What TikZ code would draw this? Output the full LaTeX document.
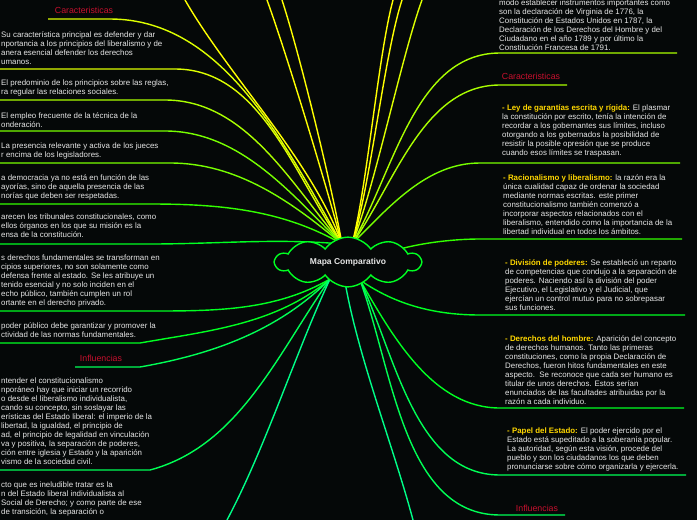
\documentclass[tikz,border=0pt]{standalone}
\usepackage{fontspec}
\setmainfont{Liberation Sans}
\usetikzlibrary{shapes.symbols}
\definecolor{bg}{HTML}{050808}
\definecolor{txt}{HTML}{E6E6E6}
\definecolor{ttl}{HTML}{C8102E}
\definecolor{lab}{HTML}{FFD700}
\definecolor{cA}{HTML}{FFFF00}
\definecolor{cB}{HTML}{DDFF00}
\definecolor{cC}{HTML}{AAFF00}
\definecolor{cD}{HTML}{77FF00}
\definecolor{cE}{HTML}{33FF00}
\definecolor{cF}{HTML}{00FF22}
\definecolor{cG}{HTML}{00FF55}
\definecolor{cH}{HTML}{00FF88}
\begin{document}
\begin{tikzpicture}[x=1pt,y=-1pt,
  conn/.style={line width=1.4pt},
  body/.style={text=txt,font=\fontsize{7.9}{9}\selectfont,align=left,anchor=north west,inner sep=0pt},
  title/.style={text=ttl,font=\fontsize{8.8}{10}\selectfont,inner sep=0pt},
  bl/.style={text=lab,font=\bfseries}]
\fill[bg] (0,0) rectangle (697,520);
\useasboundingbox (0,0) rectangle (697,520);
\begin{scope}
\clip (0,0) rectangle (697,520);
% attach coordinates on the cloud
\coordinate (tl) at (342,244);
\coordinate (tr) at (352,244);
\coordinate (lw) at (296,250);
\coordinate (bl) at (330,279);
\coordinate (bm) at (345,282);
\coordinate (br) at (360,280);
\coordinate (rw) at (400,249);
% left side
\draw[conn,cB] (48,19) -- (110,19) to[out=0,in=120,looseness=0.9] (tl);
\draw[conn,cA] (185,0) to[out=-60,in=110,looseness=0.8] (tl);
\foreach \y/\c/\xe/\ia in {69/cB/175/125,100/cC/165/130,131/cD/165/135,163/cD/170/140,204/cE/150/150,244/cF/150/175}{
  \draw[conn,\c] (0,\y) -- (\xe,\y) to[out=0,in=\ia,looseness=0.9] (tl);}
\draw[conn,cF] (0,311) -- (150,311) to[out=0,in=-150,looseness=0.9] (bl);
\draw[conn,cF] (0,343) -- (140,343) to[out=10,in=-140,looseness=0.9] (bl);
\draw[conn,cG] (75,367) -- (140,367) to[out=10,in=-135,looseness=0.9] (bl);
\draw[conn,cG] (0,470) -- (150,470) to[out=15,in=-125,looseness=0.9] (bl);
\draw[conn,cH] (227,520) to[out=62,in=-115,looseness=0.8] (bl);
\draw[conn,cH] (413,520) to[out=105,in=-80,looseness=0.8] (bm);
% top
\draw[conn,cA] (267,0) to[out=-70,in=105,looseness=0.6] (tl);
\draw[conn,cA] (282,0) to[out=-72,in=100,looseness=0.6] (tl);
\draw[conn,cA] (393,0) to[out=-105,in=75,looseness=0.6] (tr);
\draw[conn,cA] (402,0) to[out=-108,in=72,looseness=0.6] (tr);
\draw[conn,cB] (422,0) to[out=-110,in=68,looseness=0.6] (tr);
% right side
\draw[conn,cC] (tr) to[out=60,in=180,looseness=0.9] (500,53) -- (677,53);
\draw[conn,cC] (tr) to[out=55,in=180,looseness=0.9] (500,85) -- (567,85);
\draw[conn,cD] (tr) to[out=45,in=180,looseness=0.9] (480,163) -- (680,163);
\draw[conn,cE] (rw) to[out=15,in=180,looseness=0.8] (480,239) -- (682,239);
\draw[conn,cF] (br) to[out=-35,in=180,looseness=0.9] (480,315) -- (685,315);
\draw[conn,cF] (br) to[out=-60,in=180,looseness=0.9] (500,408) -- (684,408);
\draw[conn,cG] (br) to[out=-65,in=180,looseness=0.9] (500,475) -- (686,475);
\draw[conn,cG] (br) to[out=-70,in=180,looseness=0.9] (500,515) -- (565,515);
% cloud
\node[cloud,cloud puffs=10,cloud puff arc=110,aspect=3.6,draw=cF,line width=1.4pt,fill=bg,
  minimum width=145pt,minimum height=42pt,text=txt,font=\fontsize{8.5}{10}\selectfont\bfseries] (c) at (348,262) {Mapa Comparativo};
% titles
\node[title] (t1) at (84,10) {Caracteristicas};
\node[title] (t2) at (101,358) {Influencias};
\node[title] (t3) at (531,76) {Caracteristicas};
\node[title] (t4) at (537,508) {Influencias};
% left texts
\node[body] (l1) at (1,31) {Su característica principal es defender y dar\\nportancia a los principios del liberalismo y de\\anera esencial defender los derechos\\umanos.};
\node[body] (l2) at (1,80) {El predominio de los principios sobre las reglas,\\ra regular las relaciones sociales.};
\node[body] (l3) at (1,112) {El empleo frecuente de la técnica de la\\onderación.};
\node[body] (l4) at (1,143) {La presencia relevante y activa de los jueces\\r encima de los legisladores.};
\node[body] (l5) at (1,174) {a democracia ya no está en función de las\\ayorías, sino de aquella presencia de las\\norías que deben ser respetadas.};
\node[body] (l6) at (1,214) {arecen los tribunales constitucionales, como\\ellos órganos en los que su misión es la\\ensa de la constitución.};
\node[body] (l7) at (1,255) {s derechos fundamentales se transforman en\\cipios superiores, no son solamente como\\defensa frente al estado. Se les atribuye un\\tenido esencial y no solo inciden en el\\echo público, también cumplen un rol\\ortante en el derecho privado.};
\node[body] (l8) at (1,322) {poder público debe garantizar y promover la\\ctividad de las normas fundamentales.};
\node[body] (l9) at (1,378) {ntender el constitucionalismo\\nporáneo hay que iniciar un recorrido\\o desde el liberalismo individualista,\\cando su concepto, sin soslayar las\\erísticas del Estado liberal: el imperio de la\\libertad, la igualdad, el principio de\\ad, el principio de legalidad en vinculación\\va y positiva, la separación de poderes,\\ción entre iglesia y Estado y la aparición\\vismo de la sociedad civil.};
\node[body] (l10) at (1,482) {cto que es ineludible tratar es la\\n del Estado liberal individualista al\\Social de Derecho; y como parte de ese\\ de transición, la separación o};
% right texts
\node[body] (r0) at (499,0) {modo establecer instrumentos importantes como\\son la declaración de Virginia de 1776, la\\Constitución de Estados Unidos en 1787, la\\Declaración de los Derechos del Hombre y del\\Ciudadano en el año 1789 y por último la\\Constitución Francesa de 1791.};
\node[body] (r1) at (502,105) {{\bfseries\color{lab}- Ley de garantías escrita y rígida:} El plasmar\\la constitución por escrito, tenía la intención de\\recordar a los gobernantes sus límites, incluso\\otorgando a los gobernados la posibilidad de\\resistir la posible opresión que se produce\\cuando esos límites se traspasan.};
\node[body] (r2) at (503,174) {{\bfseries\color{lab}- Racionalismo y liberalismo:} la razón era la\\única cualidad capaz de ordenar la sociedad\\mediante normas escritas. este primer\\constitucionalismo también comenzó a\\incorporar aspectos relacionados con el\\liberalismo, entendido como la importancia de la\\libertad individual en todos los ámbitos.};
\node[body] (r3) at (505,259) {{\bfseries\color{lab}- División de poderes:} Se estableció un reparto\\de competencias que condujo a la separación de\\poderes. Naciendo así la división del poder\\Ejecutivo, el Legislativo y el Judicial, que\\ejercían un control mutuo para no sobrepasar\\sus funciones.};
\node[body] (r4) at (505,335) {{\bfseries\color{lab}- Derechos del hombre:} Aparición del concepto\\de derechos humanos. Tanto las primeras\\constituciones, como la propia Declaración de\\Derechos, fueron hitos fundamentales en este\\aspecto.\ \ Se reconoce que cada ser humano es\\titular de unos derechos. Estos serían\\enunciados de las facultades atribuidas por la\\razón a cada individuo.};
\node[body] (r5) at (507,428) {{\bfseries\color{lab}- Papel del Estado:} El poder ejercido por el\\Estado está supeditado a la soberanía popular.\\La autoridad, según esta visión, procede del\\pueblo y son los ciudadanos los que deben\\pronunciarse sobre cómo organizarla y ejercerla.};
\end{scope}
\end{tikzpicture}
\end{document}
